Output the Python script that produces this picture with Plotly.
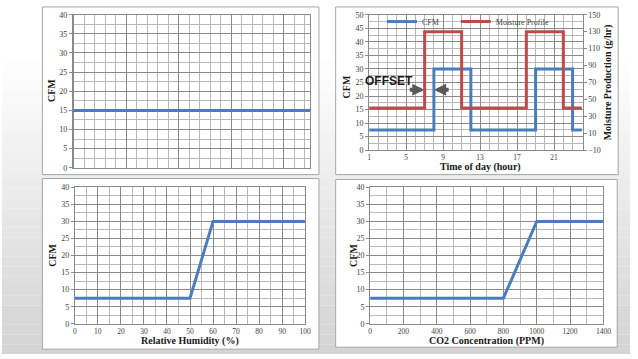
import plotly.graph_objects as go

W, H = 638, 359

# ---------------- data ----------------
const_hours = [0.9, 23.5]
const_cfm = [15, 15]

hours = [1, 2, 3, 4, 5, 6, 7, 8, 9, 10, 11, 12, 13, 14, 15, 16, 17, 18, 19, 20, 21, 22, 23, 24]
cfm_profile = [7.5, 7.5, 7.5, 7.5, 7.5, 7.5, 7.5, 30, 30, 30, 30, 7.5, 7.5, 7.5, 7.5, 7.5, 7.5, 7.5,
               30, 30, 30, 30, 7.5, 7.5]
moisture_profile = [40, 40, 40, 40, 40, 40, 130, 130, 130, 130, 40, 40, 40, 40, 40, 40, 40,
                    130, 130, 130, 130, 40, 40, 40]

rh = [0, 50, 60, 100]
rh_cfm = [7.5, 7.5, 30, 30]

co2 = [0, 800, 1000, 1400]
co2_cfm = [7.5, 7.5, 30, 30]

BLUE = "#4a7ebb"
RED = "#be4b48"
GRID = "#8a8a8a"
MINOR = "#b8b8b8"
SERIF = "Liberation Serif"


def px(x):
    return x / W


def py(y):
    return 1 - y / H


fig = go.Figure()

fig.add_trace(go.Scatter(x=const_hours, y=const_cfm, mode="lines", line=dict(color=BLUE, width=3),
                         xaxis="x", yaxis="y", showlegend=False))
fig.add_trace(go.Scatter(x=hours, y=cfm_profile, mode="lines", name="CFM", line=dict(color=BLUE, width=3, shape="hv"),
                         xaxis="x2", yaxis="y2", legend="legend"))
fig.add_trace(go.Scatter(x=hours, y=moisture_profile, mode="lines", name="Moisture Profile",
                         line=dict(color=RED, width=3, shape="hv"),
                         xaxis="x2", yaxis="y5", legend="legend2"))
fig.add_trace(go.Scatter(x=rh, y=rh_cfm, mode="lines", line=dict(color=BLUE, width=3),
                         xaxis="x3", yaxis="y3", showlegend=False))
fig.add_trace(go.Scatter(x=co2, y=co2_cfm, mode="lines", line=dict(color=BLUE, width=3),
                         xaxis="x4", yaxis="y4", showlegend=False))

tickfont = dict(family=SERIF, size=8, color="#404040")
xtickfont = dict(family=SERIF, size=7.5, color="#404040")


def xax(x0, x1, rng, dtick, minor, anchor, tick0=0, labels=True):
    return dict(domain=[px(x0), px(x1)], range=rng, dtick=dtick, tick0=tick0, anchor=anchor,
                showgrid=True, gridcolor=GRID, gridwidth=1, zeroline=False,
                minor=dict(dtick=minor, tick0=tick0, showgrid=True, gridcolor=MINOR, gridwidth=1, ticks=""),
                showline=True, linecolor=GRID, mirror=True, ticks="inside" if labels else "",
                ticklen=2, tickcolor=GRID, showticklabels=labels, tickfont=xtickfont, fixedrange=True)


def yax(y0, y1, rng, dtick, minor, anchor, tick0=0):
    return dict(domain=[py(y1), py(y0)], range=rng, dtick=dtick, tick0=tick0, anchor=anchor,
                showgrid=True, gridcolor=GRID, gridwidth=1, zeroline=False,
                minor=dict(dtick=minor, tick0=tick0, showgrid=True, gridcolor=MINOR, gridwidth=1, ticks=""),
                showline=True, linecolor=GRID, mirror=True, ticks="outside", ticklen=3, tickcolor=GRID,
                tickfont=tickfont, fixedrange=True)


legend_font = dict(family=SERIF, size=8, color="#404040")

layout = dict(
    width=W, height=H, margin=dict(l=0, r=0, t=0, b=0),
    paper_bgcolor="#ffffff", plot_bgcolor="#ffffff",
    xaxis=xax(72, 313, [0.9, 23.5], 5, 1, "y", tick0=1, labels=False),
    yaxis=yax(11, 168, [0, 40], 5, 2.5, "x"),
    xaxis2=xax(373, 590, [1, 24.1], 4, 1, "y2", tick0=1),
    yaxis2=yax(11, 150, [0, 50], 5, 2.5, "x2"),
    yaxis5=dict(overlaying="y2", side="right", anchor="x2", range=[-10, 150], dtick=20, tick0=-10,
                showgrid=False, zeroline=False, ticks="outside", ticklen=3, tickcolor=GRID,
                tickfont=tickfont, fixedrange=True),
    xaxis3=xax(74, 308, [0, 100], 10, 5, "y3"),
    yaxis3=yax(188, 328, [0, 40], 5, 2.5, "x3"),
    xaxis4=xax(374, 611, [0, 1400], 200, 100, "y4"),
    yaxis4=yax(188, 328, [0, 40], 5, 2.5, "x4"),
    legend=dict(x=px(386), y=py(18), xanchor="left", yanchor="middle", orientation="h",
                bgcolor="rgba(0,0,0,0)", itemwidth=30, font=legend_font, tracegroupgap=0),
    legend2=dict(x=px(461), y=py(18), xanchor="left", yanchor="middle", orientation="h",
                 bgcolor="rgba(0,0,0,0)", itemwidth=30, font=legend_font, tracegroupgap=0),
)

# background gradient + panels
shapes = []
n = 36
for i in range(n):
    y0 = i * H / n
    y1 = (i + 1) * H / n
    t = (y0 + y1) / 2 / H
    c = int(round(255 - 44 * max(0.0, t - 0.15) / 0.85))
    shapes.append(dict(type="rect", xref="paper", yref="paper", x0=0, x1=1, y0=py(y1), y1=py(y0),
                       fillcolor=f"rgb({c},{c},{c})", line=dict(width=0), layer="below"))
for (x0, y0, x1, y1) in [(41, 3, 322, 175), (339, 3, 626, 175), (41, 179, 322, 354), (339, 180, 625, 352)]:
    shapes.append(dict(type="rect", xref="paper", yref="paper", x0=px(x0), x1=px(x1), y0=py(y1), y1=py(y0),
                       fillcolor="#ffffff", line=dict(color="#a6a6a6", width=1), layer="below"))
layout["shapes"] = shapes

title_font = dict(family=SERIF, size=10, color="#1a1a1a")
anns = []


def ann(text, x, y, angle=0, font=title_font, pad=1):
    anns.append(dict(text=text, x=px(x), y=py(y), xref="paper", yref="paper", showarrow=False,
                     textangle=angle, font=font, xanchor="center", yanchor="middle", borderpad=pad))


ann("<b>CFM</b>", 51, 89, -90, dict(family=SERIF, size=10, color="#1a1a1a"))
ann("<b>CFM</b>", 350, 85, -90, dict(family=SERIF, size=10, color="#1a1a1a"))
ann("<b>CFM</b>", 51, 258, -90, dict(family=SERIF, size=10, color="#1a1a1a"))
ann("<b>CFM</b>", 357, 258, -90, dict(family=SERIF, size=10, color="#1a1a1a"))
ann("<b>Moisture Production (g/hr)</b>", 616, 80, -90, dict(family=SERIF, size=10, color="#1a1a1a"))
ann("<b>Time of day (hour)</b>", 486, 167, pad=0)
ann("<b>Relative Humidity (%)</b>", 191, 346, pad=0)
ann("<b>CO2 Concentration (PPM)</b>", 492, 346, pad=0)
ann("<b>OFFSET</b>", 393, 79, 0, dict(family="Liberation Sans", size=12, color="#1a1a1a"))

# offset arrows
anns.append(dict(x=px(429), y=py(88), ax=-16, ay=0, xref="paper", yref="paper", text="", showarrow=True,
                 arrowhead=2, arrowsize=0.6, arrowwidth=4, arrowcolor="#595959"))
anns.append(dict(x=px(439), y=py(88), ax=16, ay=0, xref="paper", yref="paper", text="", showarrow=True,
                 arrowhead=2, arrowsize=0.6, arrowwidth=4, arrowcolor="#595959"))
layout["annotations"] = anns

fig.update_layout(**layout)
fig.write_html("out.html", config={"displayModeBar": False},
               post_script="document.body.style.margin='0px';document.body.style.padding='0px';")
